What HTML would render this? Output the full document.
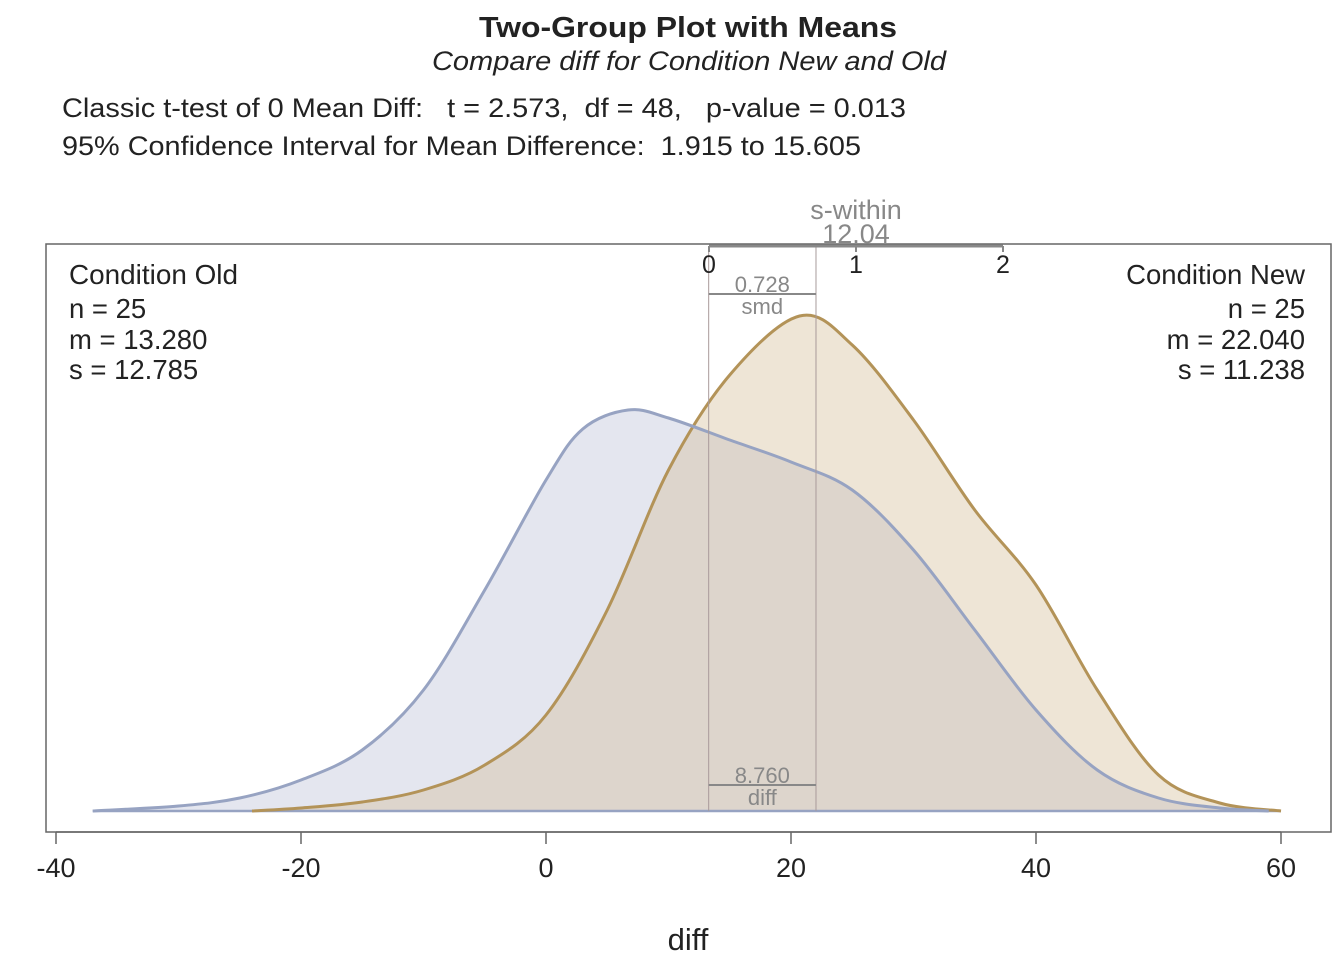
<!DOCTYPE html>
<html><head><meta charset="utf-8"><style>
body{margin:0;background:#fff;}
svg{display:block;font-family:"Liberation Sans",Arial,sans-serif;}
</style></head><body>
<svg id="chart" width="1344" height="960" viewBox="0 0 1344 960">
<text x="479" y="37" textLength="418" lengthAdjust="spacingAndGlyphs" font-size="29" font-weight="bold" fill="#222">Two-Group Plot with Means</text>
<text x="432" y="70" textLength="514" lengthAdjust="spacingAndGlyphs" font-size="27" font-style="italic" fill="#222">Compare diff for Condition New and Old</text>
<text x="62" y="117" textLength="844" lengthAdjust="spacingAndGlyphs" font-size="27" fill="#222" xml:space="preserve">Classic t-test of 0 Mean Diff:   t = 2.573,  df = 48,   p-value = 0.013</text>
<text x="62" y="155" textLength="799" lengthAdjust="spacingAndGlyphs" font-size="27" fill="#222" xml:space="preserve">95% Confidence Interval for Mean Difference:  1.915 to 15.605</text>
<rect x="46" y="244" width="1285" height="588" fill="none" stroke="#666" stroke-width="1.5"/>
<g id="curves"></g>
<g id="marks"></g>
<g id="xaxis"></g>
<text x="688" y="950" text-anchor="middle" font-size="31" fill="#222">diff</text>
<g font-size="27.5" fill="#222">
<text x="69" y="284" textLength="169" lengthAdjust="spacingAndGlyphs">Condition Old</text>
<text x="69" y="318">n = 25</text>
<text x="69" y="349">m = 13.280</text>
<text x="69" y="379">s = 12.785</text>
<text x="1305" y="284" text-anchor="end">Condition New</text>
<text x="1305" y="318" text-anchor="end">n = 25</text>
<text x="1305" y="349" text-anchor="end">m = 22.040</text>
<text x="1305" y="379" text-anchor="end">s = 11.238</text>
</g>
</svg>
<script>
const xTicks=[-40,-20,0,20,40,60];
const smdTicks=[0,1,2];
const oldX=[-37,-30,-25,-20,-15,-10,-5,0,3,6.7,10,15,20,25,30,35,40,45,50,55,59];
const oldY=[0,5,13,31,61,121,221,331,382,401,393,371,349,321,261,181,101,41,13,3,0];
const newX=[-24,-20,-15,-10,-5,0,5,10,15,20.7,25,30,35,40,45,50,55,60];
const newY=[0,3,9,21,46,96,201,341,436,495,466,391,301,226,121,36,8,0];
const meanOld=13.28, meanNew=22.04, sWithin=12.04, smd=0.728, diff=8.760;
const NS="http://www.w3.org/2000/svg";
const X=v=>546+v*12.25;
const Y=h=>811-h;
const SX=v=>709+v*147;
function el(t,a,p){const e=document.createElementNS(NS,t);for(const k in a)e.setAttribute(k,a[k]);p.appendChild(e);return e;}
function path(xs,ys){const pts=xs.map((x,i)=>[X(x),Y(ys[i])]);let d=`M${pts[0][0]},${pts[0][1]}`;
for(let i=0;i<pts.length-1;i++){const p0=pts[Math.max(0,i-1)],p1=pts[i],p2=pts[i+1],p3=pts[Math.min(pts.length-1,i+2)];
d+=` C${p1[0]+(p2[0]-p0[0])/6},${p1[1]+(p2[1]-p0[1])/6} ${p2[0]-(p3[0]-p1[0])/6},${p2[1]-(p3[1]-p1[1])/6} ${p2[0]},${p2[1]}`;}return d;}
const cg=document.getElementById('curves');
const fo=el('path',{d:path(oldX,oldY)+'Z',fill:'rgba(190,196,216,0.42)',stroke:'none'},cg);


const fn=el('path',{d:path(newX,newY)+'Z',fill:'rgba(208,184,140,0.36)',stroke:'none'},cg);


const bl=el('line',{x1:X(oldX[0]),x2:X(newX[newX.length-1]),y1:811,y2:811,stroke:'#97a3c2','stroke-width':2.5},cg);


const pn=el('path',{d:path(newX,newY),fill:'none',stroke:'#b39358','stroke-width':3},cg);


const po=el('path',{d:path(oldX,oldY),fill:'none',stroke:'#97a3c2','stroke-width':3},cg);


const mg=document.getElementById('marks');
[[meanOld,'old-mean-line'],[meanNew,'new-mean-line']].forEach(([m,n])=>{const l=el('line',{x1:X(m),x2:X(m),y1:246,y2:811,stroke:'#a89a9a','stroke-width':1},mg);

});
const sa=el('line',{x1:SX(0),x2:SX(2),y1:246,y2:246,stroke:'#888','stroke-width':3},mg);


smdTicks.forEach(t=>{const tk=el('line',{x1:SX(t),x2:SX(t),y1:246,y2:252,stroke:'#888','stroke-width':2},mg);


const tx=el('text',{x:SX(t),y:273,'text-anchor':'middle','font-size':25,fill:'#222'},mg);tx.textContent=t;

});
[['s-within',210,'s-within-label'],[sWithin.toFixed(2),234,'s-within-value']].forEach(([s,y,n])=>{const t=el('text',{x:856,y:y+9,'text-anchor':'middle','font-size':27,fill:'#888'},mg);t.textContent=s;

});
[[294,smd.toFixed(3),'smd'],[785,diff.toFixed(3),'diff']].forEach(([y,v,lab])=>{const l=el('line',{x1:X(meanOld),x2:X(meanNew),y1:y,y2:y,stroke:'#888','stroke-width':2},mg);


const cx=(X(meanOld)+X(meanNew))/2;
const a=el('text',{x:cx,y:y-2,'text-anchor':'middle','font-size':22,fill:'#888'},mg);a.textContent=v;


const b=el('text',{x:cx,y:y+20,'text-anchor':'middle','font-size':22,fill:'#888'},mg);b.textContent=lab;

});
const xg=document.getElementById('xaxis');
const ax=el('line',{x1:X(-40),x2:X(60),y1:832,y2:832,stroke:'#666','stroke-width':1.5},xg);


xTicks.forEach(t=>{const tk=el('line',{x1:X(t),x2:X(t),y1:832,y2:844,stroke:'#666','stroke-width':1.5},xg);


const tx=el('text',{x:X(t),y:877,'text-anchor':'middle','font-size':27,fill:'#222'},xg);tx.textContent=t;

});
</script>
</body></html>
